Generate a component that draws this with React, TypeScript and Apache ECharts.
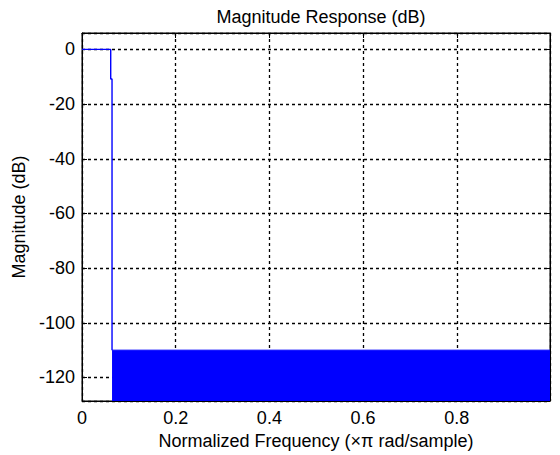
import React, { useEffect, useRef } from "react";
import * as echarts from "echarts";

// Passband and transition (normalized frequency, dB)
const passFreq = [0, 0.0613, 0.0613, 0.0641, 0.0641];
const passDb = [0, 0, -10.8, -10.8, -110];

// Stopband envelope (dense ripple drawn as a filled band down to the axis floor)
const stopFreq = [0.0641, 0.999];
const stopDb = [-110, -110];

const xMin = 0;
const xMax = 0.999;
const yMin = -128.6;
const yMax = 6;

const title = "Magnitude Response (dB)";
const xName = "Normalized Frequency (\u00d7\u03c0 rad/sample)";
const yName = "Magnitude (dB)";

const FONT = "'Liberation Sans', Arial, sans-serif";

export default function App() {
  const ref = useRef<HTMLDivElement>(null);

  useEffect(() => {
    document.body.style.margin = "0";
    const chart = echarts.init(ref.current!, null, { renderer: "svg" });
    const pass = passFreq.map((f, i) => [f, passDb[i]]);
    const stop = stopFreq.map((f, i) => [f, stopDb[i]]);
    const gridLine = { show: true, lineStyle: { color: "#000", width: 1.3, type: [3, 3] as any } };
    const tick = { show: true, inside: true, length: 5, lineStyle: { color: "#000", width: 1 } };
    const axisLine = { show: true, onZero: false, lineStyle: { color: "#000", width: 1 } };
    const label = { color: "#000", fontSize: 18, fontFamily: FONT };

    chart.setOption({
      animation: false,
      backgroundColor: "#fff",
      title: {
        text: title,
        left: 316,
        textAlign: "center",
        top: 3,
        textStyle: { color: "#000", fontSize: 18, fontWeight: "normal", fontFamily: FONT },
      },
      grid: {
        left: 82,
        top: 33,
        right: 10,
        bottom: 53,
        show: true,
        borderColor: "#000",
        borderWidth: 1,
        backgroundColor: "#fff",
      },
      xAxis: [
        {
          type: "value",
          min: xMin,
          max: xMax,
          splitNumber: 5,
          position: "bottom",
          axisLine,
          axisTick: tick,
          splitLine: gridLine,
          axisLabel: { ...label, margin: 8, showMaxLabel: false },
          name: xName,
          nameLocation: "middle",
          nameGap: 31,
          nameTextStyle: { color: "#000", fontSize: 18, fontFamily: FONT },
        },
        {
          type: "value",
          min: xMin,
          max: xMax,
          splitNumber: 5,
          position: "top",
          axisLine,
          axisTick: tick,
          splitLine: { show: false },
          axisLabel: { show: false },
        },
      ],
      yAxis: [
        {
          type: "value",
          min: yMin,
          max: yMax,
          splitNumber: 7,
          position: "left",
          axisLine,
          axisTick: tick,
          splitLine: gridLine,
          axisLabel: { ...label, margin: 7, showMinLabel: false, showMaxLabel: false },
          name: yName,
          nameLocation: "middle",
          nameGap: 51,
          nameTextStyle: { color: "#000", fontSize: 18, fontFamily: FONT },
        },
        {
          type: "value",
          min: yMin,
          max: yMax,
          splitNumber: 7,
          position: "right",
          axisLine,
          axisTick: tick,
          splitLine: { show: false },
          axisLabel: { show: false },
        },
      ],
      series: [
        {
          type: "line",
          data: stop,
          showSymbol: false,
          lineStyle: { color: "#0000ff", width: 1 },
          areaStyle: { color: "#0000ff", opacity: 1, origin: "start" },
          z: 3,
        },
        {
          type: "line",
          data: pass,
          showSymbol: false,
          lineStyle: { color: "#0000ff", width: 1.4 },
          z: 4,
        },
      ],
    });
    return () => chart.dispose();
  }, []);

  return <div ref={ref} style={{ width: 560, height: 455, position: "absolute", left: 0, top: 0 }} />;
}
